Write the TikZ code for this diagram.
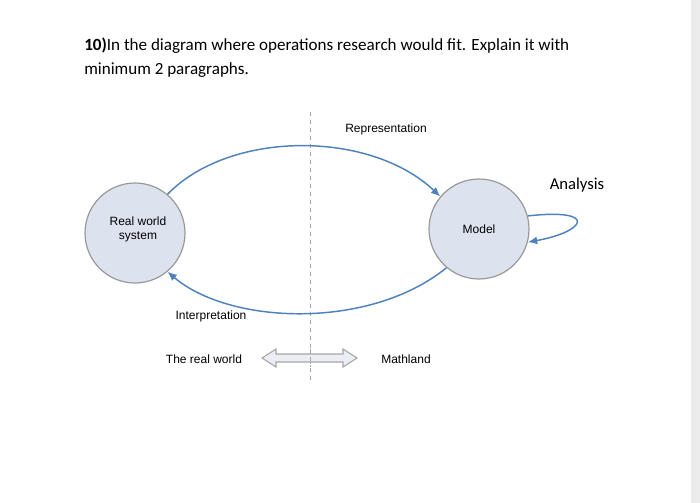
\documentclass[tikz,border=0pt]{standalone}
\usepackage{fontspec}
\setmainfont{Liberation Sans}
\newfontfamily\calfont{Carlito}
\usetikzlibrary{arrows.meta}
\definecolor{blu}{HTML}{4F81BD}
\definecolor{circ}{HTML}{DDE3EE}
\newlength\px \setlength\px{0.75pt}
\tikzset{lbl/.style={font=\fontsize{9}{10.5}\selectfont, inner sep=0pt},
 conn/.style={draw=blu, line width=1.1pt, -{Latex[length=7pt,width=6pt]}},
 bubble/.style={circle, draw=gray!80, line width=0.9pt, fill=circ, minimum size=100\px, inner sep=0pt, align=center}}
\begin{document}
\begin{tikzpicture}[x=0.75pt,y=-0.75pt]
\useasboundingbox (0,0) rectangle (700,503);
\fill[gray!15] (691,0) rectangle (700,503);
\node[anchor=west, inner sep=0pt, font=\calfont\fontsize{12.8}{15}\selectfont] (q1) at (84,46) {\textbf{10)}In the diagram where operations research would fit. Explain it with};
\node[anchor=west, inner sep=0pt, font=\calfont\fontsize{12.8}{15}\selectfont] (q2) at (84,70) {minimum 2 paragraphs.};
\draw[gray!70, dashed, line width=0.5pt] (310,112) -- (310,380);
\node[bubble] (rw) at (135,233) {};
\node[lbl, align=center] (rwt) at (138,229) {Real world\\system};
\node[bubble] (md) at (479,229) {};
\node[lbl] (mdt) at (479,229) {Model};
\draw[conn] (rw.50) .. controls (230,130) and (370,130) .. (md.140);
\draw[conn] (md.-130) .. controls (370,330) and (230,325) .. (rw.-50);
\draw[conn] (md.15) .. controls (600,208) and (585,232) .. (md.-15);
\node[lbl] (rep) at (386,129) {Representation};
\node[inner sep=0pt, font=\calfont\fontsize{12.5}{14}\selectfont] (an) at (577,185) {Analysis};
\node[lbl] (int) at (211,316) {Interpretation};
\node[lbl] (trw) at (204,359) {The real world};
\node[lbl] (mat) at (406,359) {Mathland};
\coordinate (al) at (262,358);
\coordinate (ar) at (357,358);
\draw[gray!70, fill=circ!60, line width=0.8pt] (al) -- ++(14,-9) -- ++(0,5) -- ++(67,0) -- ++(0,-5) -- (ar) -- ++(-14,9) -- ++(0,-5) -- ++(-67,0) -- ++(0,5) -- cycle;
\draw[gray!70, dashed, line width=0.5pt] (310,349) -- (310,367);
\end{tikzpicture}
\end{document}
